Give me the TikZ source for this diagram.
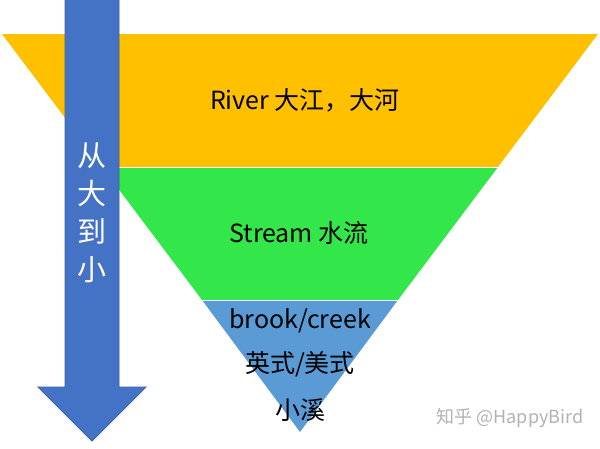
\documentclass[tikz,border=0pt]{standalone}
\usepackage{fontspec}
\setmainfont{Noto Sans CJK SC}
\begin{document}
\begin{tikzpicture}[x=1pt,y=-1pt,
  lbl/.style={font=\fontsize{25}{28}\selectfont, text=black, inner sep=0pt},
  band/.style={draw=white, line width=1pt}]
\useasboundingbox (0,0) rectangle (600,448);
\definecolor{cy}{HTML}{FFC000}
\definecolor{cg}{HTML}{33E64A}
\definecolor{cb}{HTML}{5B9BD5}
\definecolor{ca}{HTML}{4472C4}
\definecolor{cab}{HTML}{3A62AA}
\fill[cy] (2,34) -- (598,34) -- (498,167) -- (102,167) -- cycle;
\fill[cg] (102,167) -- (498,167) -- (398,300) -- (202,300) -- cycle;
\fill[cb] (202,300) -- (398,300) -- (300,432) -- cycle;
\draw[white,line width=0.8pt] (102,167) -- (498,167) (202,300) -- (398,300);
\node[lbl] (river) at (305,100) {River 大江，大河};
\node[lbl] (stream) at (299,233) {Stream 水流};
\node[lbl] (brook) at (300,321) {brook/creek};
\node[lbl] (ym) at (300,364) {英式/美式};
\node[lbl] (xx) at (300,410) {小溪};
\fill[ca, draw=cab, line width=0.8pt] (65,-2) -- (119,-2) -- (119,387) -- (146,387) -- (92,441) -- (38,387) -- (65,387) -- cycle;
\node[font=\fontsize{29}{38}\selectfont, text=white, align=center, inner sep=0pt] (v) at (92,213) {从\\大\\到\\小};
\node[font=\fontsize{18}{20}\selectfont, text=black!30, inner sep=0pt] (wm) at (510,418) {知乎 @HappyBird};
\end{tikzpicture}
\end{document}
